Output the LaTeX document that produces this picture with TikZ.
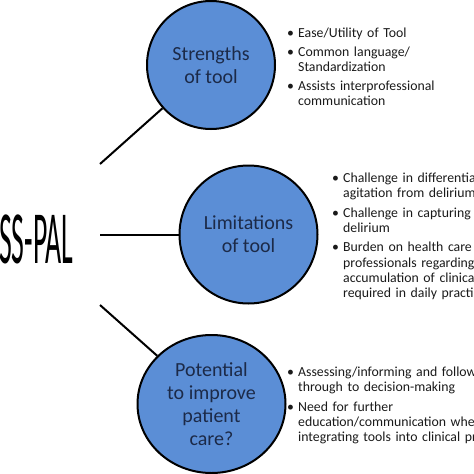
\documentclass[tikz,border=0pt]{standalone}
\usepackage{fontspec}
\setmainfont{Carlito}
\usetikzlibrary{shapes.geometric}
\definecolor{cfill}{HTML}{5B8ED6}
\definecolor{ctext}{HTML}{1C2A48}
\definecolor{btext}{HTML}{1A1A1A}
\newcommand\bitem[1]{\par\noindent\makebox[11pt][l]{•}\begin{tabular}[t]{@{}l@{}}#1\end{tabular}}
\begin{document}
\begin{tikzpicture}[x=1pt,y=-1pt,
  topic/.style={circle,draw=black,line width=2pt,fill=cfill,text=ctext,
    font=\fontsize{20}{23}\selectfont,align=center,inner sep=0pt},
  conn/.style={line width=2pt,draw=black},
  blist/.style={anchor=north west,inner sep=0pt,text width=260pt,align=left,
    text=btext,font=\fontsize{13.8}{15.2}\selectfont\setlength\parskip{3.2pt}}]
\useasboundingbox (0,0) rectangle (474,474);
\clip (0,0) rectangle (474,474);
\node[topic,minimum size=128pt] (s) at (211,65) {Strengths\\of tool};
\node[topic,minimum size=138pt] (l) at (248.5,234.5) {Limitations\\of tool};
\node[topic,ellipse,minimum width=148pt,minimum height=138pt] (p) at (211.5,404) {Potential\\to improve\\patient\\care?};
\node[anchor=base west,inner sep=0pt,font=\fontsize{75}{75}\selectfont] (ss) at (-1,263) {\scalebox{0.37}[1]{SS-PAL}};
\coordinate (a1) at (100,164);
\coordinate (a2) at (100,234.5);
\coordinate (a3) at (100,305);
\draw[conn] (a1) -- (s);
\draw[conn] (a2) -- (l);
\draw[conn] (a3) -- (p);
\node[blist] (b1) at (287,19) {\bitem{Ease/Utility of Tool}\bitem{Common language/\\Standardization}\bitem{Assists interprofessional\\communication}};
\node[blist] (b2) at (332,164) {\bitem{Challenge in differentiating\\agitation from delirium}\bitem{Challenge in capturing mixed\\delirium}\bitem{Burden on health care\\professionals regarding the\\accumulation of clinical data\\required in daily practice}};
\node[blist] (b3) at (287,358) {\bitem{Assessing/informing and following\\through to decision-making}\bitem{Need for further\\education/communication when\\integrating tools into clinical practice}};
\end{tikzpicture}
\end{document}
